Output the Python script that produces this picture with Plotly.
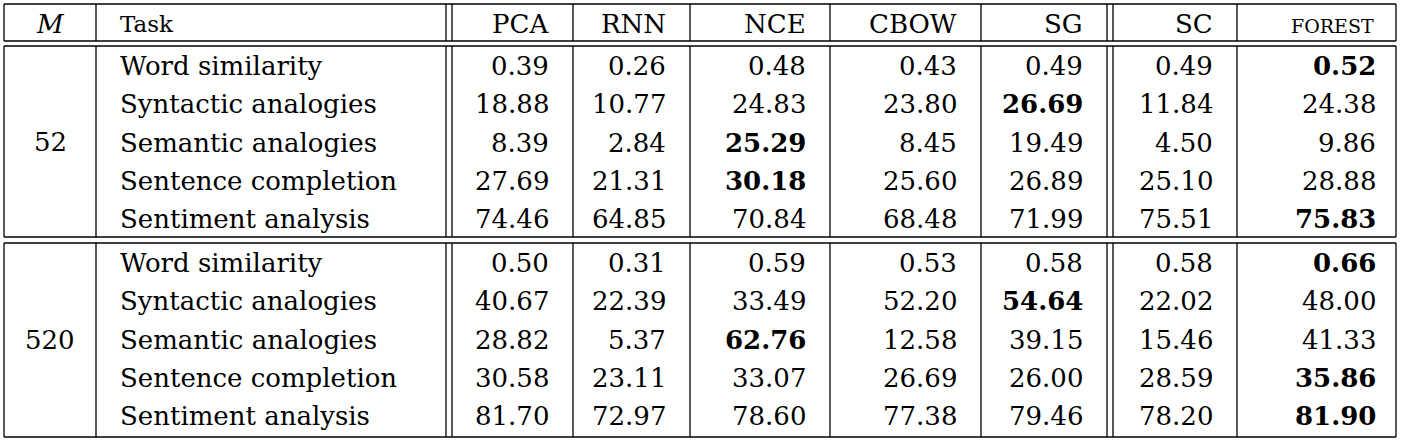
import plotly.graph_objects as go

methods = ["PCA", "RNN", "NCE", "CBOW", "SG", "SC", "FOREST"]
tasks = ["Word similarity", "Syntactic analogies", "Semantic analogies",
         "Sentence completion", "Sentiment analysis"]
dims = ["52", "520"]
vals_52 = [
    [0.39, 0.26, 0.48, 0.43, 0.49, 0.49, 0.52],
    [18.88, 10.77, 24.83, 23.80, 26.69, 11.84, 24.38],
    [8.39, 2.84, 25.29, 8.45, 19.49, 4.50, 9.86],
    [27.69, 21.31, 30.18, 25.60, 26.89, 25.10, 28.88],
    [74.46, 64.85, 70.84, 68.48, 71.99, 75.51, 75.83],
]
vals_520 = [
    [0.50, 0.31, 0.59, 0.53, 0.58, 0.58, 0.66],
    [40.67, 22.39, 33.49, 52.20, 54.64, 22.02, 48.00],
    [28.82, 5.37, 62.76, 12.58, 39.15, 15.46, 41.33],
    [30.58, 23.11, 33.07, 26.69, 26.00, 28.59, 35.86],
    [81.70, 72.97, 78.60, 77.38, 79.46, 78.20, 81.90],
]

W, H = 1401, 443
FONT = "DejaVu Serif"
FS = 26
# layout geometry (pixels)
xl, xm, xt1, xt2 = 4, 96, 446, 452
col_right = [573, 690, 830, 981, 1107, 1237, 1396]
xs1, xs2 = 1107, 1113
yt, yh1, yh2 = 4, 41, 46
yb1, yb2, ybot = 237, 243, 437
rowh = 38.2
pad = 22

shapes = []
def line(x0, y0, x1, y1):
    shapes.append(dict(type="line", x0=x0, y0=y0, x1=x1, y1=y1,
                       line=dict(color="black", width=1.3), xref="x", yref="y"))

for y in [yt, yh1, yh2, yb1, yb2, ybot]:
    line(xl, y, col_right[-1], y)
segs = [(yt, yh1), (yh2, yb1), (yb2, ybot)]
vx = [xl, xm, xt1, xt2] + col_right[:4] + [xs1, xs2, col_right[5], col_right[6]]
for (a, b) in segs:
    for x in vx:
        line(x, a, x, b)

ann = []
def txt(x, y, s, anchor, size=FS):
    ann.append(dict(x=x, y=y, text=s, showarrow=False, xanchor=anchor, yanchor="middle",
                    xref="x", yref="y", font=dict(family=FONT, size=size, color="black")))

yhead = (yt + yh1) / 2 + 1
txt((xl + xm) / 2, yhead, "<i>M</i>", "center")
txt(xm + 22, yhead, "Task", "left", 23)
for i, m in enumerate(methods):
    if m == "FOREST":
        txt(col_right[i] - pad + 2, yhead + 2, m, "right", 19)
    else:
        txt(col_right[i] - pad, yhead, m, "right")

for bi, (d, block, ystart) in enumerate([(dims[0], vals_52, yh2), (dims[1], vals_520, yb2)]):
    ybl_end = yb1 if bi == 0 else ybot
    txt((xl + xm) / 2, (ystart + ybl_end) / 2, d, "center")
    for r, (t, row) in enumerate(zip(tasks, block)):
        y = ystart + rowh * (r + 0.5) + 1
        txt(xm + 22, y, t, "left")
        mx = max(row)
        for i, v in enumerate(row):
            s = f"{v:.2f}"
            if v == mx:
                s = f"<b>{s}</b>"
            txt(col_right[i] - pad + (4 if i == 6 else 0), y, s, "right")

fig = go.Figure()
fig.update_layout(width=W, height=H, margin=dict(l=0, r=0, t=0, b=0),
                  paper_bgcolor="white", plot_bgcolor="white",
                  xaxis=dict(range=[0, W], visible=False, fixedrange=True),
                  yaxis=dict(range=[H, 0], visible=False, fixedrange=True),
                  shapes=shapes, annotations=ann, showlegend=False)
fig.write_html("out.html", config={"displayModeBar": False},
               post_script="document.body.style.margin='0';document.body.style.overflow='hidden';")
